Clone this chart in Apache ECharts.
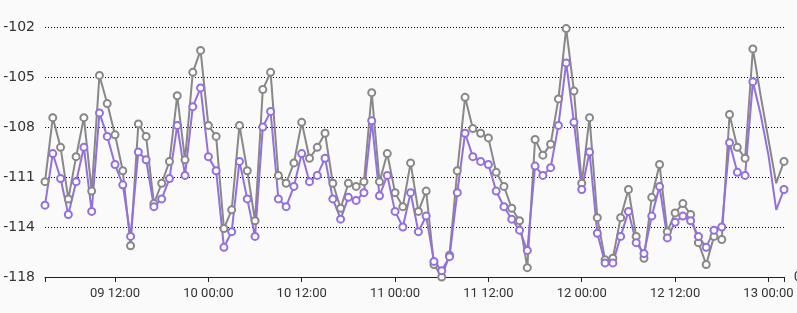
<!DOCTYPE html>
<html>
<head>
<meta charset="utf-8">
<script src="https://cdn.jsdelivr.net/npm/echarts@6/dist/echarts.min.js"></script>
<style>
  html, body { margin: 0; padding: 0; background: #fafafa; }
  #chart { width: 797px; height: 313px; }
</style>
</head>
<body>
<div id="chart"></div>
<script>
// hourly samples, 09 03:00 -> 13 02:00
const startTime = new Date(2024, 0, 9, 3, 0, 0).getTime()
const hour = 3600 * 1000

const grayValues = [
  -111.9, -107.8, -109.7, -113.0, -110.3, -107.8, -112.5, -105.1, -106.9, -108.9,
  -111.2, -116.0, -108.2, -109.0, -113.3, -112.0, -110.6, -106.4, -110.5, -104.9,
  -103.5, -108.3, -109.0, -114.9, -113.7, -108.3, -111.2, -114.4, -106.0, -104.9,
  -111.5, -112.0, -110.7, -108.1, -110.4, -109.7, -108.8, -112.0, -113.6, -112.0,
  -112.2, -111.9, -106.2, -111.9, -110.1, -112.6, -113.5, -110.7, -113.8, -112.5,
  -117.2, -118.0, -116.6, -111.2, -106.5, -108.5, -108.8, -109.1, -111.3, -112.2,
  -113.6, -114.4, -117.4, -109.2, -110.2, -109.5, -106.6, -102.1, -106.1, -112.0,
  -107.8, -114.2, -116.9, -116.8, -114.2, -112.4, -115.4, -116.8, -112.9, -110.8,
  -115.1, -113.9, -113.3, -114.0, -115.8, -117.2, -115.4, -115.6, -107.6, -109.7,
  -110.4, -103.4, -106.4, -109.2, -112.0, -110.6
]

const purpleValues = [
  -113.4, -110.1, -111.7, -114.0, -111.9, -109.7, -113.8, -107.5, -109.0, -110.8,
  -112.1, -115.4, -110.0, -110.5, -113.5, -113.0, -111.7, -108.3, -111.5, -107.1,
  -105.9, -110.3, -111.2, -116.1, -115.1, -110.6, -113.0, -115.4, -108.4, -107.4,
  -113.0, -113.5, -112.2, -110.1, -111.9, -111.5, -110.4, -113.0, -114.3, -112.9,
  -113.1, -112.6, -108.0, -112.8, -111.5, -113.8, -114.8, -112.6, -115.1, -114.1,
  -117.0, -117.6, -116.7, -112.6, -108.8, -110.3, -110.6, -110.8, -112.5, -113.5,
  -114.3, -115.0, -116.3, -110.9, -111.5, -111.0, -108.3, -104.3, -108.1, -112.4,
  -110.0, -115.2, -117.1, -117.1, -115.4, -113.8, -115.8, -116.5, -114.1, -112.2,
  -115.5, -114.5, -114.1, -114.4, -115.4, -116.1, -115.0, -114.8, -109.4, -111.3,
  -111.5, -105.5, -107.6, -110.2, -113.7, -112.4
]

// points drawn without a marker in the original
const noSymbolIdx = [92, 93, 94]

function buildData(values) {
  return values.map((v, i) => {
    const item = { value: [startTime + i * hour, v] }
    if (noSymbolIdx.indexOf(i) > -1) item.symbol = 'none'
    return item
  })
}

function lineSeries(name, values, color) {
  return {
    type: 'line',
    name: name,
    data: buildData(values),
    symbol: 'emptyCircle',
    symbolSize: 7,
    showAllSymbol: true,
    lineStyle: { color: color, width: 2 },
    itemStyle: { color: color, borderWidth: 1 }
  }
}

const myChart = echarts.init(document.getElementById('chart'), null, { renderer: 'canvas' })

myChart.setOption({
  backgroundColor: '#fafafa',
  animation: false,
  grid: { left: 45, right: 13, top: 27, bottom: 36, containLabel: false, outerBoundsMode: 'none' },
  xAxis: [
    {
      type: 'time',
      min: startTime,
      max: startTime + (grayValues.length - 1) * hour,
      minInterval: 12.5 * hour,
      maxInterval: 13 * hour,
      name: '0',
      nameLocation: 'end',
      nameGap: 10,
      nameTextStyle: { color: '#333', fontSize: 14, verticalAlign: 'middle' },
      axisLine: { lineStyle: { color: '#222', width: 1 } },
      axisTick: { show: true, length: 5, lineStyle: { color: '#222' } },
      splitLine: { show: false },
      axisLabel: {
        formatter: '{dd} {HH}:{mm}',
        color: '#333',
        fontFamily: 'Roboto',
        fontSize: 13,
        margin: 10,
        showMinLabel: false,
        showMaxLabel: false
      }
    },
    {
      // only draws the end ticks at both sides of the axis
      type: 'value',
      position: 'bottom',
      min: 0,
      max: 1,
      interval: 1,
      axisLine: { show: false },
      axisLabel: { show: false },
      splitLine: { show: false },
      axisTick: { show: true, length: 5, lineStyle: { color: '#222' } }
    }
  ],
  yAxis: {
    type: 'value',
    min: -118,
    max: -102,
    interval: 3.2,
    axisLine: { show: false },
    axisTick: { show: false },
    axisLabel: {
      color: '#333',
      fontSize: 14,
      fontFamily: 'DejaVu Sans',
      margin: 10,
      formatter: function(v) {
        return String(Math.trunc(Math.round(v * 1000) / 1000))
      }
    },
    splitLine: { lineStyle: { color: '#000', type: [1, 2], width: 1 } }
  },
  series: [
    lineSeries('gray', grayValues, '#888'),
    lineSeries('purple', purpleValues, '#9370db')
  ]
})
</script>
</body>
</html>
